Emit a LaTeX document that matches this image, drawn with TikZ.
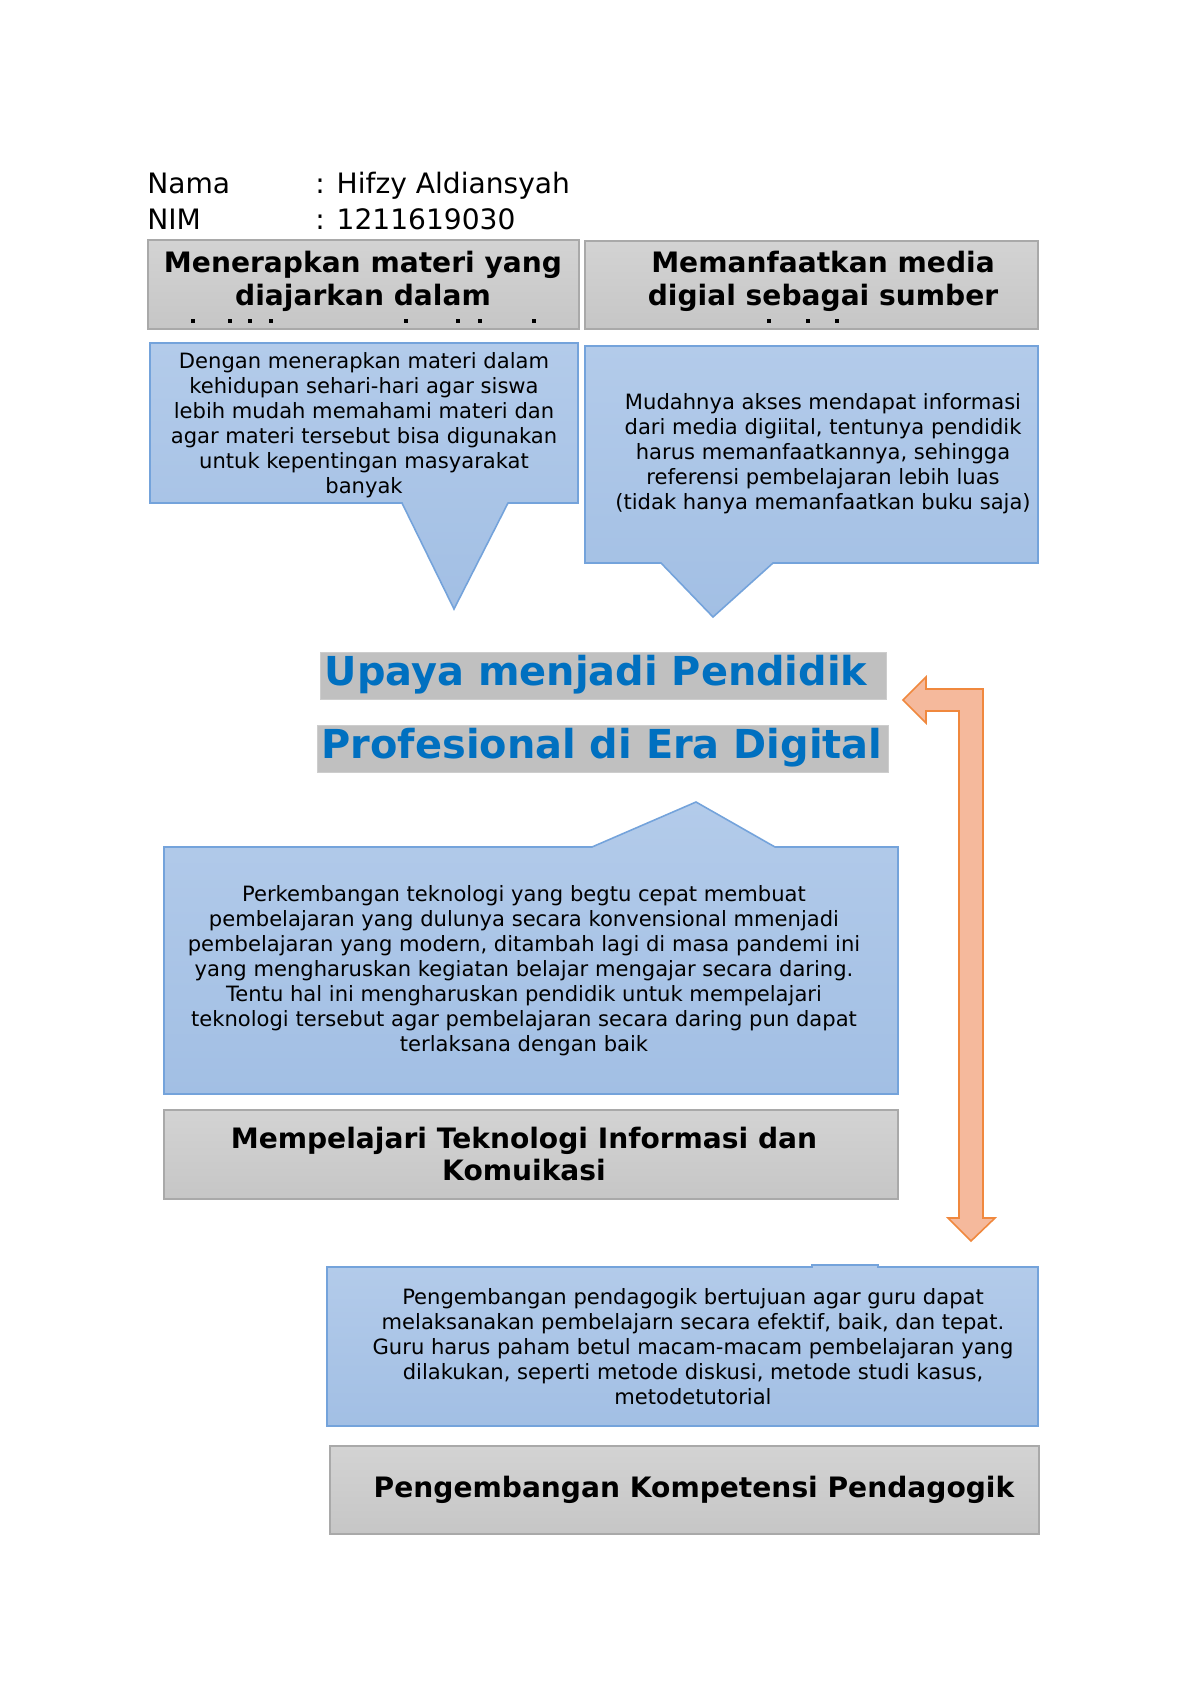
\documentclass[tikz,border=0pt]{standalone}
\usepackage{fontspec}
\setmainfont{DejaVu Sans}
\definecolor{bluetop}{HTML}{B3CBEA}
\definecolor{bluebot}{HTML}{A2BFE4}
\definecolor{bluestroke}{HTML}{74A3DB}
\definecolor{graytop}{HTML}{D3D3D3}
\definecolor{graybot}{HTML}{C6C6C6}
\definecolor{graystroke}{HTML}{A9A9A9}
\definecolor{titlebg}{HTML}{C0C0C0}
\definecolor{titlefg}{HTML}{0070C0}
\definecolor{arrowfill}{HTML}{F5B99C}
\definecolor{arrowstroke}{HTML}{F0883E}
\tikzset{
  bluebox/.style={draw=bluestroke, line width=0.9pt, top color=bluetop, bottom color=bluebot, line join=miter},
  graybox/.style={draw=graystroke, line width=0.9pt, top color=graytop, bottom color=graybot},
  titlebox/.style={fill=titlebg, draw=titlebg!80!white, line width=0.4pt},
  bodytext/.style={inner sep=0pt, align=center, font=\fontsize{12}{14.2}\selectfont, text=black},
  headtext/.style={inner sep=0pt, align=center, font=\fontsize{16}{18.7}\selectfont\bfseries, text=black},
  titletext/.style={inner sep=0pt, font=\fontsize{22.7}{27}\selectfont\bfseries, text=titlefg},
  nametext/.style={inner sep=0pt, anchor=base west, font=\fontsize{16}{19}\selectfont, text=black},
  arrowshape/.style={fill=arrowfill, draw=arrowstroke, line width=0.9pt, line join=miter},
  cutdot/.style={fill=black}
}
\begin{document}
\begin{tikzpicture}[x=0.02cm,y=-0.02cm]
\useasboundingbox (0,0) rectangle (1200,1698);
\fill[white] (0,0) rectangle (1200,1698);

% header
\node[nametext] (nama) at (147,193) {Nama};
\node[nametext] (namav) at (315,193) {: Hifzy Aldiansyah};
\node[nametext] (nim) at (147,229) {NIM};
\node[nametext] (nimv) at (315,229) {: 1211619030};

% top gray boxes
\path[graybox] (148,240) rectangle (579,329);
\node[headtext] (h1) at (363,281) {Menerapkan materi yang\\diajarkan dalam};
\foreach \dx in {193,230,250,271,406,458,480,534}
  \path[cutdot] (\dx-2,319) rectangle (\dx+2,323);
\path[graybox] (585,241) rectangle (1038,329);
\node[headtext] (h2) at (823,281) {Memanfaatkan media\\digial sebagai sumber};
\foreach \dx in {769,808,837}
  \path[cutdot] (\dx-2,319) rectangle (\dx+2,323);

% callout 1
\path[bluebox] (150,343) -- (578,343) -- (578,503) -- (508,503) -- (454,609) -- (402,503) -- (150,503) -- cycle;
\node[bodytext] (t1) at (364,425) {Dengan menerapkan materi dalam\\kehidupan sehari-hari agar siswa\\lebih mudah memahami materi dan\\agar materi tersebut bisa digunakan\\untuk kepentingan masyarakat\\banyak};

% callout 2
\path[bluebox] (585,346) -- (1038,346) -- (1038,563) -- (773,563) -- (713,617) -- (661,563) -- (585,563) -- cycle;
\node[bodytext] (t2) at (823,454) {Mudahnya akses mendapat informasi\\dari media digiital, tentunya pendidik\\harus memanfaatkannya, sehingga\\referensi pembelajaran lebih luas\\(tidak hanya memanfaatkan buku saja)};

% title
\path[titlebox] (320,652) rectangle (886,699);
\node[titletext] (title1) at (596,675) {Upaya menjadi Pendidik};
\path[titlebox] (317,725) rectangle (888,772);
\node[titletext] (title2) at (602,748) {Profesional di Era Digital};

% bent arrow
\path[arrowshape] (903,700) -- (926,677) -- (926,689) -- (983,689) -- (983,1218) -- (995,1218) -- (971,1241) -- (948,1218) -- (959,1218) -- (959,711) -- (926,711) -- (926,723) -- cycle;

% callout 3
\path[bluebox] (164,847) -- (592,847) -- (696,802) -- (775,847) -- (898,847) -- (898,1094) -- (164,1094) -- cycle;
\node[bodytext] (t3) at (524,971) {Perkembangan teknologi yang begtu cepat membuat\\pembelajaran yang dulunya secara konvensional mmenjadi\\pembelajaran yang modern, ditambah lagi di masa pandemi ini\\yang mengharuskan kegiatan belajar mengajar secara daring.\\Tentu hal ini mengharuskan pendidik untuk mempelajari\\teknologi tersebut agar pembelajaran secara daring pun dapat\\terlaksana dengan baik};

% gray box 3
\path[graybox] (164,1110) rectangle (898,1199);
\node[headtext] (h3) at (524,1154) {Mempelajari Teknologi Informasi dan\\Komuikasi};

% box 4
\path[bluebox] (327,1267) -- (812,1267) -- (812,1265) -- (878,1265) -- (878,1267) -- (1038,1267) -- (1038,1426) -- (327,1426) -- cycle;
\node[bodytext] (t4) at (693,1347) {Pengembangan pendagogik bertujuan agar guru dapat\\melaksanakan pembelajarn secara efektif, baik, dan tepat.\\Guru harus paham betul macam-macam pembelajaran yang\\dilakukan, seperti metode diskusi, metode studi kasus,\\metodetutorial};

% gray box 5
\path[graybox] (330,1446) rectangle (1039,1534);
\node[headtext] (h5) at (694,1490) {Pengembangan Kompetensi Pendagogik};
\end{tikzpicture}
\end{document}
